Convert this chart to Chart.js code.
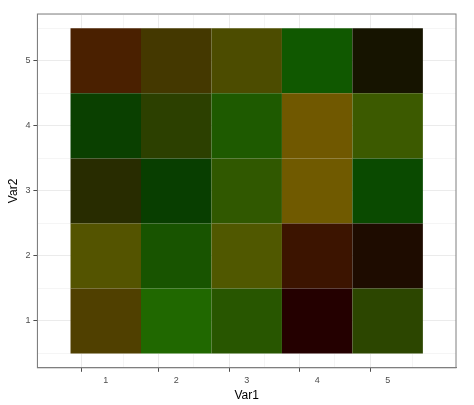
<!DOCTYPE html>
<html><head><meta charset="utf-8">
<script src="https://cdn.jsdelivr.net/npm/chart.js@4/dist/chart.umd.min.js"></script>
<style>html,body{margin:0;background:#fff}#wrap{width:474px;height:405px}</style>
</head><body><div id="wrap"><canvas id="c"></canvas></div>
<script>
const var1 = [1, 2, 3, 4, 5];
const var2 = [1, 2, 3, 4, 5];
// red and green channels of each cell, rows from Var2 = 1 upward
const redVals = [
  [80, 32, 40, 36, 44],
  [84, 24, 80, 60, 30],
  [40, 8, 48, 112, 10],
  [10, 44, 30, 112, 60],
  [74, 68, 76, 16, 22]
];
const greenVals = [
  [64, 104, 86, 0, 70],
  [84, 84, 88, 20, 12],
  [44, 62, 88, 90, 74],
  [64, 64, 90, 88, 90],
  [32, 56, 76, 88, 20]
];

const datasets = var2.map((y, i) => ({
  data: var1.map(x => ({x: x, y: [y - 0.5, y + 0.5]})),
  backgroundColor: var1.map((x, j) => `rgb(${redVals[i][j]},${greenVals[i][j]},0)`),
  borderWidth: 0,
  barPercentage: 1,
  categoryPercentage: 2
}));

const isMajor = ctx => ctx.tick && Number.isInteger(ctx.tick.value);
const gridColor = ctx => isMajor(ctx) ? '#ebebeb' : '#f5f5f5';
const tickColor = ctx => isMajor(ctx) ? '#4d4d4d' : 'rgba(0,0,0,0)';
const tickCb = v => Number.isInteger(v) ? v : '';

new Chart(document.getElementById('c'), {
  type: 'bar',
  data: {datasets: datasets},
  options: {
    responsive: true,
    maintainAspectRatio: false,
    animation: false,
    grouped: false,
    layout: {padding: {top: 14, right: 18, left: 4, bottom: 2}},
    plugins: {legend: {display: false}, tooltip: {enabled: false}},
    scales: {
      x: {
        type: 'linear', min: 0.3, max: 5.7,
        ticks: {stepSize: 0.5, callback: tickCb, color: '#4d4d4d', font: {size: 9}, autoSkip: false, maxRotation: 0},
        grid: {color: gridColor, tickColor: tickColor, tickLength: 4},
        border: {color: '#7f7f7f'},
        title: {display: true, text: 'Var1', font: {size: 12}, color: '#000', padding: 0}
      },
      y: {
        min: 0.28, max: 5.72,
        ticks: {stepSize: 0.5, callback: tickCb, color: '#4d4d4d', font: {size: 9}, autoSkip: false},
        grid: {color: gridColor, tickColor: tickColor, tickLength: 4},
        border: {color: '#7f7f7f'},
        title: {display: true, text: 'Var2', font: {size: 12}, color: '#000', padding: 2}
      }
    }
  },
  plugins: [{
    id: 'frame',
    afterDraw(chart) {
      const a = chart.chartArea, c = chart.ctx;
      c.save(); c.strokeStyle = '#7f7f7f'; c.lineWidth = 1;
      c.strokeRect(a.left, a.top, a.right - a.left, a.bottom - a.top);
      c.restore();
    }
  }]
});
</script></body></html>
